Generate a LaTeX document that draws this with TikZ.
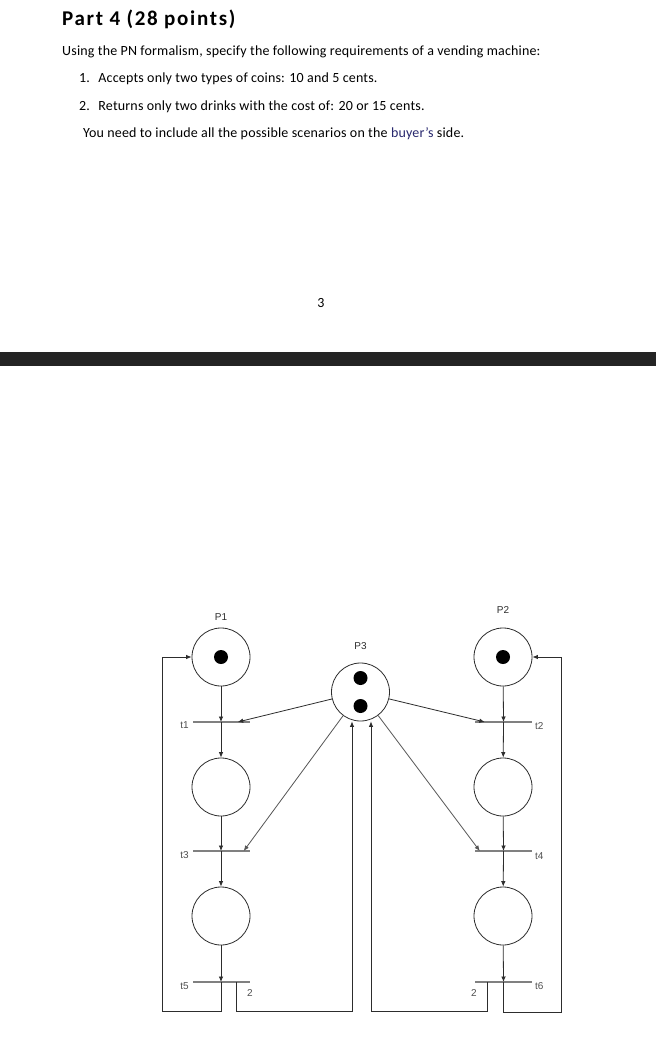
\documentclass[tikz,border=0pt]{standalone}
\usepackage{fontspec}
\setmainfont{Carlito}
\newfontfamily\titlefont[LetterSpace=8]{Carlito}
\newfontfamily\bodyfont[LetterSpace=1.3]{Carlito}
\newfontfamily\netfont{Liberation Sans}
\usetikzlibrary{arrows.meta}
\definecolor{barcol}{RGB}{36,36,36}
\definecolor{buyercol}{RGB}{40,40,110}
\definecolor{linecol}{RGB}{45,45,45}
\definecolor{diagcol}{RGB}{85,85,85}
\definecolor{trcol}{RGB}{128,128,128}
\definecolor{lblcol}{RGB}{80,80,80}
\tikzset{
  place/.style={circle, draw=linecol, line width=0.8pt, minimum size=58pt, inner sep=0pt},
  token/.style={circle, fill=black, minimum size=14pt, inner sep=0pt},
  trans/.style={rectangle, fill=trcol, minimum width=57pt, minimum height=1.6pt, inner sep=0pt},
  arc/.style={draw=linecol, line width=0.8pt, -{Latex[length=5.5pt,width=4.5pt]}},
  darc/.style={draw=diagcol, line width=0.8pt, -{Latex[length=5.5pt,width=4.5pt]}},
  plbl/.style={font=\netfont\fontsize{10}{12}\selectfont, text=linecol, inner sep=0pt},
  tlbl/.style={font=\netfont\fontsize{10}{12}\selectfont, text=lblcol, inner sep=0pt},
  body/.style={font=\bodyfont\fontsize{14}{16}\selectfont, anchor=base west, inner sep=0pt},
}
\begin{document}
\begin{tikzpicture}[x=1pt,y=-1pt]
\useasboundingbox (0,0) rectangle (656,1060);
\fill[white] (0,0) rectangle (656,1060);
% header text
\node[font=\titlefont\bfseries\fontsize{21}{24}\selectfont, anchor=base west, inner sep=0pt] (title) at (62,25.5) {Part 4 (28 points)};
\node[body] (intro) at (62,55) {Using the PN formalism, specify the following requirements of a vending machine:};
\node[body] (item1) at (79,82) {1.\hspace{0.6em}Accepts only two types of coins: 10 and 5 cents.};
\node[body] (item2) at (79,110) {2.\hspace{0.6em}Returns only two drinks with the cost of: 20 or 15 cents.};
\node[body] (note) at (83,137) {You need to include all the possible scenarios on the {\color{buyercol}buyer’s} side.};
\node[font=\bodyfont\fontsize{14}{16}\selectfont, inner sep=0pt] (pagenum) at (321,303) {3};
\fill[barcol] (0,352) rectangle (656,366);

% places
\node[place] (p1) at (221,657) {};
\node[token] (tk1) at (221,657) {};
\node[place] (p2) at (503,657) {};
\node[token] (tk2) at (503,657) {};
\node[place] (p3) at (360.5,692) {};
\node[token] (tk3a) at (360.5,678) {};
\node[token] (tk3b) at (360.5,706) {};
\node[place] (p4) at (221,787) {};
\node[place] (p5) at (503,787) {};
\node[place] (p6) at (221,916) {};
\node[place] (p7) at (503,916) {};

\node[plbl] (lp1) at (221,617) {P1};
\node[plbl] (lp2) at (503,610) {P2};
\node[plbl] (lp3) at (360.5,646) {P3};

% transitions
\node[trans] (t1) at (221,722) {};
\node[trans] (t2) at (503.5,722) {};
\node[trans] (t3) at (221,851) {};
\node[trans] (t4) at (503.5,851) {};
\node[trans] (t5) at (221,982) {};
\node[trans] (t6) at (503.5,982) {};

\node[tlbl, anchor=east] (lt1) at (189,725) {t1};
\node[tlbl, anchor=west] (lt2) at (535,726) {t2};
\node[tlbl, anchor=east] (lt3) at (189,855) {t3};
\node[tlbl, anchor=west] (lt4) at (535,856) {t4};
\node[tlbl, anchor=east] (lt5) at (189,986) {t5};
\node[tlbl, anchor=west] (lt6) at (535,986) {t6};
\node[tlbl] (w5) at (250,993) {2};
\node[tlbl] (w6) at (474,993) {2};

% vertical flow arcs
\draw[arc] (p1) -- (t1.center);
\draw[arc] (t1.center) -- (p4);
\draw[arc] (p4) -- (t3.center);
\draw[arc] (t3.center) -- (p6);
\draw[arc] (p6) -- (t5.center);
\draw[arc] (p2) -- (t2.center);
\draw[arc] (t2.center) -- (p5);
\draw[arc] (p5) -- (t4.center);
\draw[arc] (t4.center) -- (p7);
\draw[arc] (p7) -- (t6.center);

% arcs from P3
\coordinate (a1) at ([xshift=-12pt]t1.east);
\coordinate (a2) at ([xshift=10pt]t2.west);
\coordinate (a3) at ([xshift=-6pt]t3.east);
\coordinate (a4) at ([xshift=5pt]t4.west);
\draw[arc] (p3) -- (a1);
\draw[arc] (p3) -- (a2);
\draw[darc] (p3) -- (a3);
\draw[darc] (p3) -- (a4);

% return loops
\draw[arc] (t5.center) -- ++(0,29) -| ([xshift=-29pt]p1.west) -- (p1.west);
\draw[arc] (t6.center) -- ++(0,30) -| ([xshift=29pt]p2.east) -- (p2.east);
\draw[arc] ([xshift=15pt]t5.center) -- ++(0,29) -| ([xshift=-8.5pt]p3.south);
\draw[arc] ([xshift=-16.5pt]t6.center) -- ++(0,29) -| ([xshift=10.5pt]p3.south);
\end{tikzpicture}
\end{document}
